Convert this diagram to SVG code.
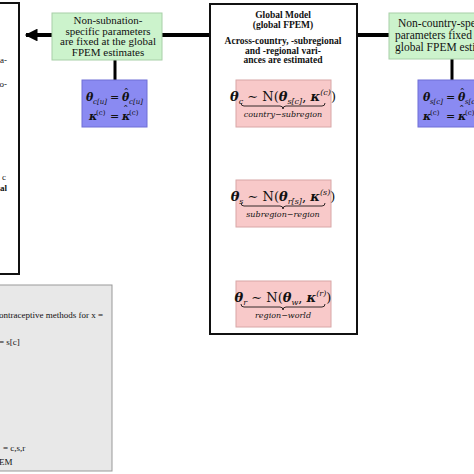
<svg xmlns="http://www.w3.org/2000/svg" width="474" height="474" viewBox="0 0 474 474">
<style>
.bx{fill:#fff;stroke:#111;stroke-width:2}
.gr{fill:#ccf3cc;stroke:#a8cfa8;stroke-width:1}
.bl{fill:#8a8af2;stroke:#6f6fd6;stroke-width:1}
.pk{fill:#f8c9c9;stroke:#d8a6a6;stroke-width:1}
.gy{fill:#e8e8e8;stroke:#999;stroke-width:1}
.t{font-family:"Liberation Serif","DejaVu Serif",serif;fill:#111}
.c{text-anchor:middle}
.b{font-weight:bold}
.m{font-family:"DejaVu Serif","Liberation Serif",serif;fill:#111}
.th{font-weight:bold;font-style:italic}
.it{font-style:italic}
.ln{stroke:#000;fill:none}
.hat{font-size:11px}
</style>
<defs>
<marker id="ah" viewBox="0 0 10 10" refX="9" refY="5" markerWidth="3.4" markerHeight="3.2" orient="auto" markerUnits="strokeWidth">
<path d="M0,0 L10,5 L0,10 z" fill="#000"/>
</marker>
</defs>

<g id="connectors">
<line class="ln" x1="52" y1="35" x2="26" y2="35" stroke-width="4" marker-end="url(#ah)"/>
<line class="ln" x1="162" y1="35" x2="210" y2="35" stroke-width="4"/>
<line class="ln" x1="357" y1="35" x2="389" y2="35" stroke-width="4"/>
<line class="ln" x1="115" y1="60" x2="115" y2="80" stroke-width="3"/>
<line class="ln" x1="452" y1="59" x2="452" y2="80" stroke-width="3"/>
</g>

<g id="left-box">
<rect class="bx" x="-10" y="3" width="29" height="271"/>
<text class="t" x="7" y="63" font-size="9" text-anchor="end">a-</text>
<text class="t" x="7" y="87" font-size="9" text-anchor="end">o-</text>
<text class="t" x="6" y="180" font-size="9" text-anchor="end">c</text>
<text class="t b" x="7" y="191" font-size="9" text-anchor="end">al</text>
</g>

<g id="green-left">
<rect class="gr" x="52" y="13" width="110" height="47"/>
<text class="t c" x="108" y="24" font-size="11">Non-subnation-</text>
<text class="t c" x="108" y="34.5" font-size="11">specific parameters</text>
<text class="t c" x="108" y="45" font-size="11">are fixed at the global</text>
<text class="t c" x="108" y="55.5" font-size="11">FPEM estimates</text>
</g>

<g id="blue-left">
<rect class="bl" x="82" y="80" width="65" height="47"/>
<text class="m" y="101" font-size="11"><tspan x="86" class="th">θ</tspan><tspan x="93" dy="3" font-size="7" class="it">c[u]</tspan><tspan x="110" dy="-3">=</tspan><tspan x="122" class="th">θ</tspan><tspan x="129" dy="3" font-size="7" class="it">c[u]</tspan><tspan x="123.5" dy="-7" class="hat">ˆ</tspan></text>
<text class="m" y="120" font-size="11"><tspan x="89" class="th">κ</tspan><tspan x="96" dy="-5" font-size="7">(c)</tspan><tspan x="110" dy="5">=</tspan><tspan x="122" class="th">κ</tspan><tspan x="129" dy="-5" font-size="7">(c)</tspan><tspan x="123" dy="-1" class="hat">ˆ</tspan></text>
</g>

<g id="global-model">
<rect class="bx" x="210" y="4" width="147" height="330"/>
<text class="t c b" x="283" y="18" font-size="9.5">Global Model</text>
<text class="t c b" x="283" y="28" font-size="9.5">(global FPEM)</text>
<text class="t c b" x="283" y="44" font-size="9.5">Across-country, -subregional</text>
<text class="t c b" x="283" y="53.5" font-size="9.5">and -regional vari-</text>
<text class="t c b" x="283" y="63" font-size="9.5">ances are estimated</text>
</g>

<g id="formula-country">
<rect class="pk" x="236" y="80" width="95" height="47"/>
<text class="m c" x="283" y="101" font-size="13"><tspan class="th">θ</tspan><tspan dy="3" font-size="8" class="it">c</tspan><tspan dy="-3"> ∼ N(</tspan><tspan class="th">θ</tspan><tspan dy="3" font-size="8" class="it">s[c]</tspan><tspan dy="-3">, </tspan><tspan class="th">κ</tspan><tspan dy="-6" font-size="8" class="it">(c)</tspan><tspan dy="6">)</tspan></text>
<path class="ln" stroke-width="0.8" d="M241,103 q0,3 3,3 h36 q3,0 3,3 q0,-3 3,-3 h36 q3,0 3,-3"/>
<text class="m c it" x="283" y="117" font-size="8">country−subregion</text>
</g>

<g id="formula-subregion">
<rect class="pk" x="236" y="180" width="95" height="47"/>
<text class="m c" x="283" y="201" font-size="13"><tspan class="th">θ</tspan><tspan dy="3" font-size="8" class="it">s</tspan><tspan dy="-3"> ∼ N(</tspan><tspan class="th">θ</tspan><tspan dy="3" font-size="8" class="it">r[s]</tspan><tspan dy="-3">, </tspan><tspan class="th">κ</tspan><tspan dy="-6" font-size="8" class="it">(s)</tspan><tspan dy="6">)</tspan></text>
<path class="ln" stroke-width="0.8" d="M241,203 q0,3 3,3 h36 q3,0 3,3 q0,-3 3,-3 h36 q3,0 3,-3"/>
<text class="m c it" x="283" y="217" font-size="8">subregion−region</text>
</g>

<g id="formula-region">
<rect class="pk" x="236" y="281" width="95" height="46"/>
<text class="m c" x="283" y="302" font-size="13"><tspan class="th">θ</tspan><tspan dy="3" font-size="8" class="it">r</tspan><tspan dy="-3"> ∼ N(</tspan><tspan class="th">θ</tspan><tspan dy="3" font-size="8" class="it">w</tspan><tspan dy="-3">, </tspan><tspan class="th">κ</tspan><tspan dy="-6" font-size="8" class="it">(r)</tspan><tspan dy="6">)</tspan></text>
<path class="ln" stroke-width="0.8" d="M241,304 q0,3 3,3 h36 q3,0 3,3 q0,-3 3,-3 h36 q3,0 3,-3"/>
<text class="m c it" x="283" y="318" font-size="8">region−world</text>
</g>

<g id="green-right">
<rect class="gr" x="389" y="13" width="120" height="46"/>
<text class="t" x="398" y="27" font-size="11.5">Non-country-specific</text>
<text class="t" x="395" y="39" font-size="11.5">parameters fixed at the</text>
<text class="t" x="395" y="51" font-size="11.5">global FPEM estimates</text>
</g>

<g id="blue-right">
<rect class="bl" x="418" y="80" width="80" height="47"/>
<text class="m" y="101" font-size="11"><tspan x="423" class="th">θ</tspan><tspan x="430" dy="3" font-size="7" class="it">s[c]</tspan><tspan x="446" dy="-3">=</tspan><tspan x="458" class="th">θ</tspan><tspan x="465" dy="3" font-size="7" class="it">s[c]</tspan><tspan x="459.5" dy="-7" class="hat">ˆ</tspan></text>
<text class="m" y="120" font-size="11"><tspan x="423" class="th">κ</tspan><tspan x="430" dy="-5" font-size="7">(c)</tspan><tspan x="446" dy="5">=</tspan><tspan x="458" class="th">κ</tspan><tspan x="465" dy="-5" font-size="7">(c)</tspan><tspan x="459" dy="-1" class="hat">ˆ</tspan></text>
</g>

<g id="legend">
<rect class="gy" x="-10" y="285" width="122" height="186"/>
<text class="t" x="-1" y="318" font-size="9">ontraceptive methods for x =</text>
<text class="t" x="-1" y="345" font-size="9">= s[c]</text>
<text class="t" x="3" y="451" font-size="9">= c,s,r</text>
<text class="t" x="-1" y="465" font-size="9">EM</text>
</g>
</svg>
